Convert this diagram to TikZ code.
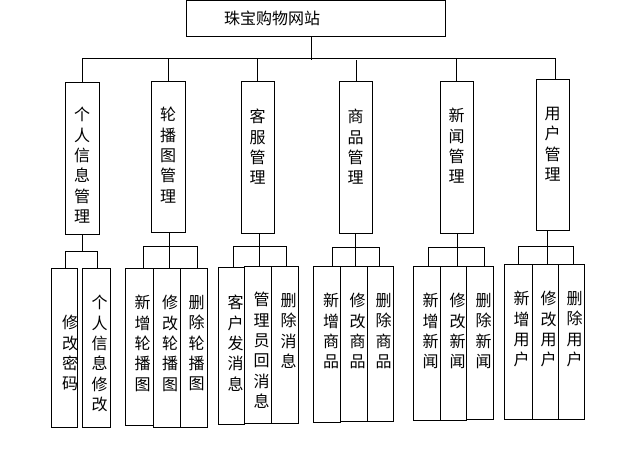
\documentclass[tikz,border=0pt]{standalone}
\usepackage{fontspec}
\newfontfamily\cjk{Noto Sans CJK SC}
\usetikzlibrary{fit}
\tikzset{
  box/.style={draw, line width=1pt, inner sep=0pt},
  vtxt/.style={font=\cjk\fontsize{16}{20.4}\selectfont, align=center, inner sep=0pt, anchor=north},
  conn/.style={line width=1pt}
}
\begin{document}
\begin{tikzpicture}[x=1pt,y=-1pt]
\useasboundingbox (0,0) rectangle (618,471);
% top box
\node[box, fit={(186,0.8) (445,36)}] (top) {};
\node[font=\cjk\fontsize{16}{16}\selectfont, inner sep=0pt, anchor=west] (title) at (224,18) {珠宝购物网站};
% level-1 boxes
\node[box, fit={(65,82) (99,234)}] (b1) {};
\node[box, fit={(151,81) (185,232)}] (b2) {};
\node[box, fit={(241,81) (274,233)}] (b3) {};
\node[box, fit={(339,81) (372,233)}] (b4) {};
\node[box, fit={(440,81) (473,233)}] (b5) {};
\node[box, fit={(536,79) (569,230)}] (b6) {};
\node[vtxt] (t1) at (82,107) {个\\人\\信\\息\\管\\理};
\node[vtxt] (t2) at (168,107) {轮\\播\\图\\管\\理};
\node[vtxt] (t3) at (257.5,109) {客\\服\\管\\理};
\node[vtxt] (t4) at (355.5,109) {商\\品\\管\\理};
\node[vtxt] (t5) at (456.5,108) {新\\闻\\管\\理};
\node[vtxt] (t6) at (552.5,107) {用\\户\\管\\理};
% level-2 boxes
\node[box, fit={(51,268) (77,427)}] (a1) {};
\node[box, fit={(82,268) (110,427)}] (a2) {};
\node[box, fit={(125,268) (153,425)}] (c1) {};
\node[box, fit={(153,268) (180,427)}] (c2) {};
\node[box, fit={(180,268) (207,427)}] (c3) {};
\node[box, fit={(218,267) (244,424)}] (d1) {};
\node[box, fit={(244,266) (271,423)}] (d2) {};
\node[box, fit={(271,266) (298,423)}] (d3) {};
\node[box, fit={(313,266) (340,422)}] (e1) {};
\node[box, fit={(340,266) (367,421)}] (e2) {};
\node[box, fit={(367,266) (393,421)}] (e3) {};
\node[box, fit={(413,266) (440,420)}] (f1) {};
\node[box, fit={(440,266) (466,420)}] (f2) {};
\node[box, fit={(466,266) (493,419)}] (f3) {};
\node[box, fit={(504,264) (532,419)}] (g1) {};
\node[box, fit={(532,264) (558,419)}] (g2) {};
\node[box, fit={(558,264) (584,419)}] (g3) {};
% level-2 texts
\node[vtxt] (ta1) at (70,315) {修\\改\\密\\码};
\node[vtxt] (ta2) at (99.5,295) {个\\人\\信\\息\\修\\改};
\node[vtxt] (tc1) at (142.5,295) {新\\增\\轮\\播\\图};
\node[vtxt] (tc2) at (170,295) {修\\改\\轮\\播\\图};
\node[vtxt] (tc3) at (196.5,295) {删\\除\\轮\\播\\图};
\node[vtxt] (td1) at (235.5,295) {客\\户\\发\\消\\息};
\node[vtxt] (td2) at (261.7,292) {管\\理\\员\\回\\消\\息};
\node[vtxt] (td3) at (288.5,293) {删\\除\\消\\息};
\node[vtxt] (te1) at (331,293) {新\\增\\商\\品};
\node[vtxt] (te2) at (357.5,293) {修\\改\\商\\品};
\node[vtxt] (te3) at (383.5,293) {删\\除\\商\\品};
\node[vtxt] (tf1) at (430.5,293) {新\\增\\新\\闻};
\node[vtxt] (tf2) at (457.5,293) {修\\改\\新\\闻};
\node[vtxt] (tf3) at (483.5,293) {删\\除\\新\\闻};
\node[vtxt] (tg1) at (521.5,291) {新\\增\\用\\户};
\node[vtxt] (tg2) at (548.5,291) {修\\改\\用\\户};
\node[vtxt] (tg3) at (574.5,291) {删\\除\\用\\户};
% top bus
\coordinate (bus) at (311,58);
\coordinate (k1) at (82,58);
\coordinate (k2) at (168,58);
\coordinate (k3) at (257,58);
\coordinate (k4) at (356,58);
\coordinate (k5) at (456,58);
\coordinate (k6) at (555,58);
\draw[conn] (top.south -| bus) -- ([yshift=-2pt]bus);
\draw[conn] (k1 |- b1.north) -- (k1) -- (k6) -- (k6 |- b6.north);
\draw[conn] (k2) -- (k2 |- b2.north);
\draw[conn] (k3) -- (k3 |- b3.north);
\draw[conn] ([yshift=-2pt]k4) -- (k4 |- b4.north);
\draw[conn] (k5) -- (k5 |- b5.north);
% group 1
\coordinate (s1) at (82,251);
\coordinate (h1l) at (65,251);
\coordinate (h1r) at (97,251);
\draw[conn] (b1.south -| s1) -- (s1);
\draw[conn] (h1l |- a1.north) -- (h1l) -- (h1r) -- (h1r |- a2.north);
% group 2
\coordinate (s2) at (169,246);
\coordinate (h2l) at (143,246);
\coordinate (h2r) at (197,246);
\draw[conn] (b2.south -| s2) -- (s2 |- c2.north);
\draw[conn] (h2l |- c1.north) -- (h2l) -- (h2r) -- (h2r |- c3.north);
% group 3
\coordinate (s3) at (259,246);
\coordinate (h3l) at (233,246);
\coordinate (h3r) at (286,246);
\draw[conn] (b3.south -| s3) -- (s3 |- d2.north);
\draw[conn] (h3l |- d1.north) -- (h3l) -- (h3r) -- (h3r |- d3.north);
% group 4
\coordinate (s4) at (355,247);
\coordinate (h4l) at (332,247);
\coordinate (h4r) at (379,247);
\draw[conn] (b4.south -| s4) -- (s4 |- e2.north);
\draw[conn] (h4l |- e1.north) -- (h4l) -- (h4r) -- (h4r |- e3.north);
% group 5
\coordinate (s5) at (457,247);
\coordinate (h5l) at (428,247);
\coordinate (h5r) at (484,247);
\draw[conn] (b5.south -| s5) -- (s5 |- f2.north);
\draw[conn] (h5l |- f1.north) -- (h5l) -- (h5r) -- (h5r |- f3.north);
% group 6
\coordinate (s6) at (547,246);
\coordinate (h6l) at (518,246);
\coordinate (h6r) at (573,246);
\draw[conn] (b6.south -| s6) -- (s6 |- g2.north);
\draw[conn] (h6l |- g1.north) -- (h6l) -- (h6r) -- (h6r |- g3.north);
\end{tikzpicture}
\end{document}
